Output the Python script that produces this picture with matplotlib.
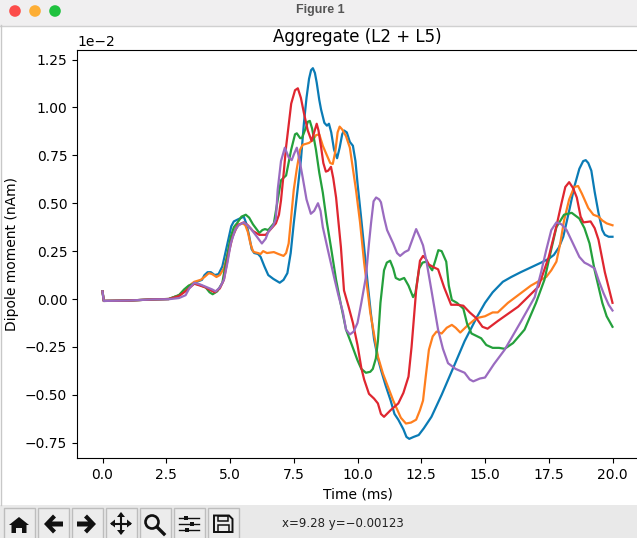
import matplotlib
matplotlib.use('Agg')
import matplotlib.pyplot as plt
from matplotlib.patches import Rectangle, Circle, Polygon

# values in units of 1e-2 nAm
t_blue = [0, 0.05, 1, 2, 2.6, 3, 3.3, 3.6, 3.9, 4.0, 4.12, 4.25, 4.4, 4.55, 4.7, 4.85, 4.95, 5.05, 5.15, 5.3, 5.54, 5.65, 5.75, 5.85, 5.95, 6.1, 6.2, 6.35, 6.5, 6.7, 6.95, 7.1, 7.25, 7.38, 7.5, 7.65, 7.78, 7.9, 8.0, 8.1, 8.18, 8.25, 8.33, 8.4, 8.5, 8.57, 8.7, 8.8, 8.88, 8.97, 9.08, 9.2, 9.3, 9.4, 9.47, 9.58, 9.7, 9.82, 9.92, 10, 10.13, 10.26, 10.4, 10.52, 10.65, 10.8, 10.92, 11.1, 11.3, 11.45, 11.6, 11.8, 11.92, 12.03, 12.2, 12.4, 12.6, 12.9, 13.3, 13.8, 14.2, 14.7, 15, 15.3, 15.7, 16.03, 16.4, 16.8, 17.2, 17.5, 17.7, 17.9, 18.07, 18.3, 18.5, 18.7, 18.85, 18.95, 19.05, 19.17, 19.3, 19.45, 19.6, 19.7, 19.85, 20]
v_blue = [0.04, -0.01, -0.008, -0.002, 0, 0.02, 0.05, 0.085, 0.10, 0.125, 0.14, 0.14, 0.125, 0.13, 0.17, 0.26, 0.32, 0.38, 0.405, 0.415, 0.43, 0.39, 0.33, 0.26, 0.24, 0.235, 0.22, 0.17, 0.125, 0.105, 0.085, 0.10, 0.135, 0.24, 0.395, 0.57, 0.725, 0.92, 1.05, 1.15, 1.195, 1.205, 1.18, 1.13, 1.04, 0.99, 0.92, 0.905, 0.915, 0.87, 0.78, 0.735, 0.79, 0.86, 0.88, 0.87, 0.82, 0.80, 0.72, 0.605, 0.44, 0.27, 0.08, -0.07, -0.21, -0.31, -0.37, -0.45, -0.53, -0.60, -0.63, -0.68, -0.72, -0.73, -0.72, -0.71, -0.675, -0.615, -0.50, -0.345, -0.22, -0.09, -0.02, 0.035, 0.09, 0.115, 0.14, 0.165, 0.19, 0.21, 0.23, 0.27, 0.325, 0.46, 0.585, 0.68, 0.72, 0.725, 0.71, 0.67, 0.56, 0.45, 0.36, 0.335, 0.325, 0.325]

t_orange = [0, 0.05, 1, 2, 2.6, 3, 3.2, 3.4, 3.6, 3.85, 4, 4.17, 4.3, 4.47, 4.6, 4.76, 4.9, 5.03, 5.2, 5.35, 5.5, 5.6, 5.7, 5.8, 5.9, 5.95, 6.1, 6.2, 6.3, 6.45, 6.72, 6.9, 7.1, 7.2, 7.3, 7.38, 7.5, 7.62, 7.75, 7.85, 8.1, 8.25, 8.37, 8.5, 8.64, 8.8, 8.93, 9.03, 9.13, 9.22, 9.3, 9.4, 9.55, 9.7, 9.94, 10.1, 10.26, 10.5, 10.8, 11, 11.2, 11.4, 11.7, 11.9, 12.1, 12.3, 12.45, 12.57, 12.68, 12.8, 12.95, 13.1, 13.3, 13.5, 13.7, 13.85, 14.03, 14.3, 14.66, 15, 15.3, 15.5, 15.9, 16.3, 16.8, 17.4, 17.6, 17.8, 17.95, 18.1, 18.3, 18.5, 18.65, 18.8, 19.05, 19.25, 19.45, 19.6, 19.77, 20]
v_orange = [0.04, -0.01, -0.008, -0.002, 0, 0.02, 0.045, 0.07, 0.09, 0.10, 0.115, 0.135, 0.13, 0.115, 0.125, 0.16, 0.23, 0.31, 0.365, 0.39, 0.395, 0.385, 0.35, 0.29, 0.25, 0.245, 0.24, 0.235, 0.25, 0.24, 0.245, 0.235, 0.225, 0.24, 0.29, 0.40, 0.57, 0.68, 0.78, 0.805, 0.815, 0.83, 0.855, 0.86, 0.80, 0.75, 0.71, 0.705, 0.77, 0.87, 0.90, 0.885, 0.85, 0.79, 0.57, 0.40, 0.19, -0.07, -0.30, -0.39, -0.46, -0.53, -0.62, -0.65, -0.645, -0.63, -0.58, -0.53, -0.40, -0.265, -0.195, -0.17, -0.18, -0.15, -0.135, -0.15, -0.175, -0.14, -0.10, -0.09, -0.07, -0.07, -0.02, 0.02, 0.07, 0.115, 0.15, 0.195, 0.29, 0.41, 0.52, 0.585, 0.59, 0.55, 0.475, 0.44, 0.43, 0.41, 0.395, 0.385]

t_green = [0, 0.05, 1, 2, 2.6, 3, 3.2, 3.38, 3.6, 3.8, 4.05, 4.2, 4.32, 4.5, 4.7, 4.85, 5.03, 5.15, 5.3, 5.45, 5.62, 5.75, 5.9, 6.15, 6.27, 6.37, 6.5, 6.72, 6.85, 7.0, 7.2, 7.4, 7.55, 7.62, 7.75, 7.82, 7.98, 8.05, 8.13, 8.22, 8.37, 8.5, 8.64, 8.8, 8.96, 9.16, 9.35, 9.55, 9.75, 10, 10.15, 10.33, 10.5, 10.6, 10.72, 10.8, 10.9, 11.04, 11.15, 11.28, 11.4, 11.5, 11.65, 11.83, 12, 12.18, 12.27, 12.42, 12.55, 12.7, 12.85, 12.93, 13.05, 13.17, 13.3, 13.48, 13.58, 13.7, 13.9, 14.15, 14.3, 14.47, 14.7, 14.85, 15.05, 15.3, 15.55, 15.77, 16.1, 16.55, 17, 17.33, 17.6, 17.8, 18.1, 18.4, 18.7, 18.9, 19.1, 19.3, 19.45, 19.6, 19.77, 20]
v_green = [0.04, -0.01, -0.008, -0.002, 0, 0.02, 0.05, 0.07, 0.08, 0.075, 0.06, 0.035, 0.025, 0.04, 0.085, 0.20, 0.325, 0.375, 0.40, 0.43, 0.44, 0.425, 0.39, 0.345, 0.36, 0.365, 0.36, 0.395, 0.50, 0.62, 0.645, 0.78, 0.86, 0.865, 0.84, 0.84, 0.895, 0.925, 0.93, 0.89, 0.78, 0.66, 0.555, 0.40, 0.27, 0.10, -0.03, -0.16, -0.23, -0.32, -0.365, -0.385, -0.38, -0.365, -0.31, -0.22, -0.02, 0.15, 0.19, 0.20, 0.16, 0.11, 0.10, 0.11, 0.07, 0.01, 0.03, 0.16, 0.19, 0.195, 0.165, 0.15, 0.20, 0.255, 0.25, 0.195, 0.07, -0.005, -0.02, -0.05, -0.13, -0.18, -0.195, -0.205, -0.24, -0.255, -0.255, -0.26, -0.23, -0.16, -0.02, 0.10, 0.26, 0.375, 0.44, 0.45, 0.42, 0.37, 0.29, 0.15, 0.065, -0.02, -0.09, -0.145]

t_red = [0, 0.05, 1, 2, 2.6, 3, 3.3, 3.6, 4.05, 4.25, 4.4, 4.6, 4.76, 4.95, 5.1, 5.3, 5.54, 5.7, 5.9, 6.15, 6.4, 6.6, 6.8, 6.92, 7, 7.1, 7.2, 7.4, 7.55, 7.66, 7.78, 7.9, 8.05, 8.2, 8.3, 8.4, 8.47, 8.57, 8.66, 8.76, 8.85, 8.96, 9.05, 9.16, 9.35, 9.47, 9.65, 9.82, 10, 10.15, 10.26, 10.45, 10.65, 10.8, 10.92, 11.04, 11.3, 11.6, 11.8, 12, 12.12, 12.3, 12.45, 12.57, 12.68, 12.8, 13, 13.16, 13.4, 13.67, 13.9, 14.15, 14.4, 14.66, 14.9, 15.1, 15.5, 16.3, 17.1, 17.5, 17.8, 18, 18.15, 18.3, 18.45, 18.6, 18.75, 18.86, 19.14, 19.3, 19.45, 19.7, 20]
v_red = [0.04, -0.01, -0.008, -0.002, 0, 0.015, 0.045, 0.08, 0.06, 0.045, 0.035, 0.055, 0.10, 0.24, 0.325, 0.385, 0.40, 0.385, 0.355, 0.335, 0.335, 0.365, 0.395, 0.44, 0.515, 0.65, 0.795, 1.02, 1.09, 1.10, 1.05, 0.97, 0.88, 0.825, 0.87, 0.915, 0.88, 0.795, 0.71, 0.665, 0.67, 0.69, 0.63, 0.53, 0.27, 0.045, -0.04, -0.125, -0.24, -0.36, -0.42, -0.495, -0.52, -0.545, -0.60, -0.615, -0.58, -0.545, -0.49, -0.405, -0.25, 0.045, 0.20, 0.225, 0.21, 0.18, 0.165, 0.155, 0.06, -0.03, -0.03, -0.035, -0.07, -0.10, -0.145, -0.155, -0.115, -0.04, 0.065, 0.22, 0.38, 0.50, 0.585, 0.61, 0.58, 0.53, 0.43, 0.40, 0.405, 0.37, 0.31, 0.14, -0.02]

t_purple = [0, 0.05, 1, 2, 2.6, 3, 3.26, 3.4, 3.6, 3.85, 4.12, 4.3, 4.44, 4.6, 4.76, 4.9, 5.03, 5.2, 5.34, 5.54, 5.8, 6.0, 6.25, 6.4, 6.5, 6.7, 6.8, 6.87, 7.0, 7.15, 7.3, 7.42, 7.52, 7.62, 7.72, 7.85, 8, 8.17, 8.3, 8.45, 8.55, 8.64, 8.84, 9.08, 9.25, 9.43, 9.55, 9.7, 9.85, 10, 10.15, 10.33, 10.45, 10.53, 10.63, 10.73, 10.85, 10.92, 11.05, 11.16, 11.4, 11.55, 11.67, 11.85, 12, 12.15, 12.3, 12.45, 12.57, 12.7, 12.9, 13.16, 13.35, 13.55, 13.85, 14.2, 14.4, 14.54, 14.8, 15, 15.35, 15.77, 16.4, 16.95, 17.2, 17.4, 17.6, 17.8, 18, 18.2, 18.45, 18.7, 18.9, 19.05, 19.3, 19.45, 19.65, 19.85, 20]
v_purple = [0.04, -0.01, -0.008, -0.002, -0.001, 0.005, 0.02, 0.055, 0.085, 0.075, 0.06, 0.05, 0.04, 0.06, 0.10, 0.19, 0.29, 0.36, 0.385, 0.40, 0.37, 0.335, 0.29, 0.315, 0.35, 0.385, 0.42, 0.57, 0.72, 0.79, 0.74, 0.725, 0.76, 0.79, 0.73, 0.635, 0.52, 0.445, 0.46, 0.50, 0.46, 0.375, 0.255, 0.115, 0.02, -0.07, -0.16, -0.185, -0.17, -0.125, -0.02, 0.115, 0.29, 0.395, 0.51, 0.53, 0.52, 0.505, 0.42, 0.36, 0.29, 0.24, 0.225, 0.245, 0.255, 0.31, 0.365, 0.32, 0.28, 0.20, 0.045, -0.16, -0.26, -0.335, -0.365, -0.385, -0.42, -0.43, -0.415, -0.41, -0.34, -0.265, -0.12, 0.01, 0.14, 0.255, 0.36, 0.40, 0.39, 0.36, 0.29, 0.22, 0.19, 0.18, 0.16, 0.10, 0.03, -0.03, -0.06]

series = [(t_blue, v_blue, '#0a7bb5'), (t_orange, v_orange, '#ff7f1e'),
          (t_green, v_green, '#24a03c'), (t_red, v_red, '#df2630'),
          (t_purple, v_purple, '#9a6bc0')]

W, H = 637, 538
fig = plt.figure(figsize=(W / 100, H / 100), dpi=100, facecolor='white')
ax = fig.add_axes([77 / W, 1 - 458 / H, (W - 77 + 1) / W, (458 - 50) / H])
for t, v, c in series:
    ax.plot(t, [a * 1e-2 for a in v], color=c, lw=1.6, solid_joinstyle='round')
ax.set_xlim(-1, 21)
ax.set_ylim(-0.0083, 0.0130)
ax.set_xticks([0, 2.5, 5, 7.5, 10, 12.5, 15, 17.5, 20])
ax.set_yticks([-0.0075, -0.005, -0.0025, 0, 0.0025, 0.005, 0.0075, 0.01, 0.0125])
ax.ticklabel_format(axis='y', style='sci', scilimits=(-2, -2))
ax.set_title('Aggregate (L2 + L5)', fontsize=12, pad=6)
ax.set_xlabel('Time (ms)')
ax.set_ylabel('Dipole moment (nAm)')

# window chrome, in pixel coordinates
ch = fig.add_axes([0, 0, 1, 1], zorder=5)
ch.set_xlim(0, W)
ch.set_ylim(H, 0)
ch.axis('off')
ch.add_patch(Rectangle((0, 0), W, 25.5, fc='#f0eff0', ec='none'))
ch.plot([0, W], [25.5, 25.5], color='#d0d0d0', lw=1)
ch.plot([0.5, 0.5], [25, 505], color='#c8c8c8', lw=1)
for cx, col in zip([15, 35, 55], ['#fc4c4a', '#fdae35', '#1fc23f']):
    ch.add_patch(Circle((cx, 11), 5.8, fc=col, ec='none'))
ch.text(320, 10.5, 'Figure 1', ha='center', va='center', fontsize=9,
        fontweight='bold', color='#555555', family='Liberation Sans')
ch.add_patch(Rectangle((0, 505), W, 33, fc='#e9e9e9', ec='none'))
for bx in [3, 37, 71, 105, 139, 173, 207]:
    ch.add_patch(Rectangle((bx + 0.5, 507.5), 31, 31, fc='#ececec', ec='#bdbdbd', lw=1))

# toolbar icons
k = '#111111'
ch.add_patch(Polygon([[9, 525], [19, 517], [29, 525], [26.5, 525], [26.5, 533], [22, 533], [22, 528],
                      [16, 528], [16, 533], [11.5, 533], [11.5, 525]], fc=k, ec='none'))
ch.add_patch(Polygon([[44, 524], [53, 514.5], [56, 517.5], [52, 521.5], [63, 521.5], [63, 526.5],
                      [52, 526.5], [56, 530.5], [53, 533.5]], fc=k, ec='none'))
ch.add_patch(Polygon([[96, 524], [87, 514.5], [84, 517.5], [88, 521.5], [77, 521.5], [77, 526.5],
                      [88, 526.5], [84, 530.5], [87, 533.5]], fc=k, ec='none'))
ch.plot([112, 130], [523.5, 523.5], color=k, lw=1.5)
ch.plot([121, 121], [514, 533], color=k, lw=1.5)
for tri in ([[110, 523.5], [115, 519.5], [115, 527.5]], [[132, 523.5], [127, 519.5], [127, 527.5]],
            [[121, 512], [117, 517], [125, 517]], [[121, 535], [117, 530], [125, 530]]):
    ch.add_patch(Polygon(tri, fc=k, ec='none'))
ch.add_patch(Circle((152, 522), 6.5, fc='none', ec=k, lw=1.9))
ch.plot([157, 164], [527, 534], color=k, lw=2.4)
for ly, bar in zip([518, 524, 530], [186, 192, 187]):
    ch.plot([179, 199], [ly, ly], color=k, lw=1)
    ch.add_patch(Rectangle((bar - 2, ly - 2), 4, 4, fc=k, ec='none'))
ch.add_patch(Polygon([[214, 515.5], [229, 515.5], [232.5, 519], [232.5, 532], [214, 532]], fc='none', ec=k, lw=1.4))
ch.add_patch(Rectangle((218, 515.5), 9.5, 5.5, fc='none', ec=k, lw=1.1))
ch.add_patch(Rectangle((218, 525), 10.5, 7, fc='none', ec=k, lw=1.1))
ch.text(282, 524, 'x=9.28 y=\u22120.00123', ha='left', va='center', fontsize=8.5, color='#222222')

fig.savefig('out.png', dpi=100)
